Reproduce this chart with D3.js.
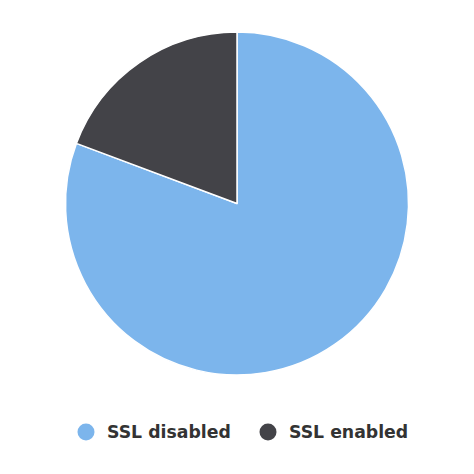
<!DOCTYPE html>
<html>
<head>
<meta charset="utf-8">
<script src="https://cdn.jsdelivr.net/npm/d3@7"></script>
<style>
  body { margin: 0; background: #fff; }
</style>
</head>
<body>
<div class="container"></div>
<script>
var labels = ["SSL disabled", "SSL enabled"];
var values = [80.7, 19.3];
var colors = ["#7cb5ec", "#434348"];

var width = 474, height = 474;
var cx = 237, cy = 203.5, radius = 171.5;

var svg = d3.select(".container")
  .append("svg")
  .attr("width", width)
  .attr("height", height);

var pie = d3.pie().sort(null).value(function (d) { return d; });
var arc = d3.arc().innerRadius(0).outerRadius(radius);

var g = svg.append("g").attr("transform", "translate(" + cx + "," + cy + ")");

// slices, clockwise from 12 o'clock
g.selectAll("path")
  .data(pie(values))
  .enter().append("path")
  .attr("d", arc)
  .style("fill", function (d, i) { return colors[i]; })
  .style("stroke", "#ffffff")
  .style("stroke-width", 1.5)
  .style("stroke-linejoin", "round");

// legend
var legendX = [86, 268];
var legend = svg.selectAll(".legend")
  .data(labels)
  .enter().append("g")
  .attr("class", "legend")
  .attr("transform", function (d, i) { return "translate(" + legendX[i] + ",432)"; });

legend.append("circle")
  .attr("r", 8.5)
  .style("fill", function (d, i) { return colors[i]; });

legend.append("text")
  .attr("x", 21)
  .attr("dy", "0.35em")
  .style("font-family", "DejaVu Sans, sans-serif")
  .style("font-weight", "bold")
  .style("font-size", "17.3px")
  .style("fill", "#333333")
  .text(function (d) { return d; });
</script>
</body>
</html>
